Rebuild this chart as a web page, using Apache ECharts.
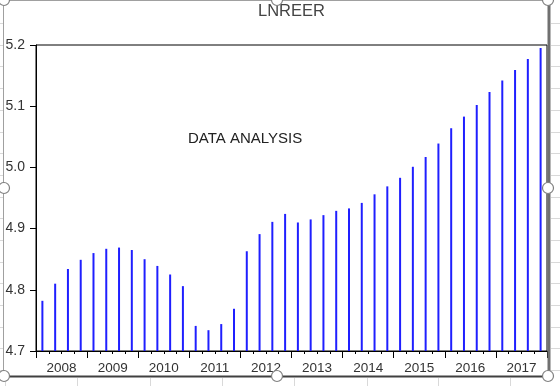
<!DOCTYPE html>
<html>
<head>
<meta charset="utf-8">
<script src="https://cdn.jsdelivr.net/npm/echarts@6/dist/echarts.min.js"></script>
<style>html,body{margin:0;padding:0;background:#fff;}#c{width:560px;height:386px;}</style>
</head>
<body>
<div id="c"></div>
<script>
const titleText = 'LNREER';
const noteText = 'DATA ANALYSIS';
const years = ['2008','2009','2010','2011','2012','2013','2014','2015','2016','2017'];
const quarters = [];
years.forEach(y => { for (let q = 1; q <= 4; q++) quarters.push(y + 'Q' + q); });
const lnreer = [
  4.782, 4.810, 4.834, 4.849,
  4.860, 4.867, 4.869, 4.865,
  4.850, 4.839, 4.825, 4.806,
  4.741, 4.734, 4.744, 4.769,
  4.863, 4.891, 4.911, 4.924,
  4.910, 4.915, 4.922, 4.929,
  4.933, 4.942, 4.956, 4.969,
  4.983, 5.001, 5.017, 5.039,
  5.064, 5.083, 5.102, 5.123,
  5.142, 5.159, 5.177, 5.195
];
const yMin = 4.7, yMax = 5.2, yStep = 0.1;

const chart = echarts.init(document.getElementById('c'), null, {renderer: 'canvas'});

// decorative spreadsheet/selection frame
const deco = [];
const gridGray = '#d9d9d9';
[5, 77, 150, 222, 294, 367, 438, 510].forEach(x => deco.push({type:'line', shape:{x1:x+0.5,y1:378,x2:x+0.5,y2:386}, style:{stroke:gridGray, lineWidth:1}, silent:true}));
for (let y = 23; y < 378; y += 21.7) {
  const yy = Math.round(y) + 0.5;
  deco.push({type:'line', shape:{x1:551,y1:yy,x2:560,y2:yy}, style:{stroke:gridGray, lineWidth:1}, silent:true});
  deco.push({type:'line', shape:{x1:0,y1:yy,x2:3,y2:yy}, style:{stroke:gridGray, lineWidth:1}, silent:true});
}
deco.push({type:'line', shape:{x1:3.5,y1:0,x2:3.5,y2:377}, style:{stroke:'#a0a0a0', lineWidth:1}, z:10, silent:true});
deco.push({type:'line', shape:{x1:3,y1:0.5,x2:549,y2:0.5}, style:{stroke:'#a0a0a0', lineWidth:1}, z:10, silent:true});
deco.push({type:'line', shape:{x1:549,y1:0,x2:549,y2:377}, style:{stroke:'#707070', lineWidth:3}, z:10, silent:true});
deco.push({type:'line', shape:{x1:3,y1:376.5,x2:549,y2:376.5}, style:{stroke:'#404040', lineWidth:2}, z:10, silent:true});
[[4,0],[277,0],[548,0],[4,188],[548,188],[4,376],[277,376],[548,376]].forEach(p => deco.push({
  type:'circle', shape:{cx:p[0], cy:p[1], r:5.5}, style:{fill:'#fff', stroke:'#808080', lineWidth:1.2}, z:11, silent:true
}));
deco.push({type:'text', left:188, top:131, z:5, style:{text:noteText, fill:'#222', font:'15px "Liberation Sans", Arial, sans-serif'}});

chart.setOption({
  animation: false,
  backgroundColor: '#fff',
  title: {
    text: titleText, left: 258, top: 3, padding: 0,
    textStyle: {fontSize: 16.5, fontWeight: 'normal', color: '#444', fontFamily: '"Liberation Sans", Arial, sans-serif'}
  },
  grid: {left: 36, right: 13, top: 45, bottom: 35, show: true, borderColor: '#000', borderWidth: 1, backgroundColor: '#fff'},
  xAxis: [
    {
      type: 'category', data: quarters, boundaryGap: true, position: 'bottom',
      axisLine: {show: true, onZero: false, lineStyle: {color: '#000', width: 1}},
      axisTick: {show: true, interval: 0, length: 3, lineStyle: {color: '#000'}},
      axisLabel: {show: false}, splitLine: {show: false}
    },
    {
      type: 'category', data: years, boundaryGap: true, position: 'bottom',
      axisLine: {show: false, onZero: false},
      axisTick: {show: true, interval: 0, length: 7, lineStyle: {color: '#000'}},
      axisLabel: {show: true, interval: 0, margin: 10, fontSize: 13.5, color: '#333', fontFamily: '"Liberation Sans", Arial, sans-serif'},
      splitLine: {show: false}
    }
  ],
  yAxis: {
    type: 'value', min: yMin, max: yMax, interval: yStep,
    axisLine: {show: true, lineStyle: {color: '#000'}},
    axisTick: {show: true, length: 6, lineStyle: {color: '#000'}},
    axisLabel: {margin: 11, fontSize: 14, color: '#333', fontFamily: '"Liberation Sans", Arial, sans-serif', formatter: v => v.toFixed(1)},
    splitLine: {show: false}
  },
  series: [{
    type: 'bar', xAxisIndex: 0, data: lnreer, barWidth: 2, clip: true,
    itemStyle: {color: '#1f1fff'}
  }],
  graphic: deco
});
</script>
</body>
</html>
